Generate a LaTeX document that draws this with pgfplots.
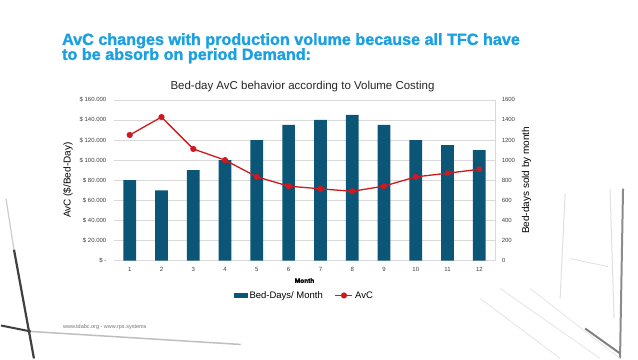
\documentclass[border=0pt]{standalone}
\usepackage{pgfplots}
\pgfplotsset{compat=1.18}
\usepackage{fontspec}
\setmainfont{Liberation Sans}
\newfontfamily\heavyfont[BoldFeatures={FakeBold=1.5}]{Liberation Sans}
\definecolor{barblue}{HTML}{0B5676}
\definecolor{linered}{HTML}{D0191E}
\definecolor{titleblue}{HTML}{1BA0E2}
\definecolor{ticktext}{HTML}{404040}
\definecolor{gridgray}{HTML}{D9D9D9}
\begin{document}
\begin{tikzpicture}
\begin{scope}[x=1pt,y=1pt]
\fill[white] (0,0) rectangle (638,359);
% faint background decoration
\draw[black!75,line width=2.2pt] (13,109) -- (33,0);
\draw[black!20,line width=1.2pt] (5,160) -- (13,109);
\draw[black!75,line width=2pt] (0,33) -- (30,27);
\draw[black!25,line width=1.5pt] (30,27) -- (240,14);
\draw[black!12,line width=1pt] (565,165) -- (560,60);
\draw[black!12,line width=1pt] (610,170) -- (614,40);
\draw[black!45,line width=2pt] (623,170) -- (620,0);
\draw[black!12,line width=0.8pt] (570,100) -- (608,92);
\draw[black!10,line width=0.8pt] (500,70) -- (600,0);
\draw[black!10,line width=0.8pt] (530,70) -- (620,0);
\draw[black!10,line width=0.8pt] (480,60) -- (560,0);
\draw[black!50,line width=2pt] (585,30) -- (620,5);
\node[anchor=base west,text=titleblue,font=\heavyfont\bfseries\fontsize{16.2}{16}\selectfont,inner sep=0] at (61,314) {AvC changes with production volume because all TFC have};
\node[anchor=base west,text=titleblue,font=\heavyfont\bfseries\fontsize{16.2}{16}\selectfont,inner sep=0] at (61,299) {to be absorb on period Demand:};
\node[anchor=west,text=black!55,font=\fontsize{5.5}{6}\selectfont,inner sep=0] at (62,31) {www.tdabc.org - www.rps.systems};
\node[font=\fontsize{11.5}{13}\selectfont,text=black!85] at (302,272) {Bed-day AvC behavior according to Volume Costing};
\end{scope}
\begin{axis}[
  at={(113pt,98pt)}, anchor=south west, scale only axis,
  width=382pt, height=161pt,
  xmin=0.5, xmax=12.5, ymin=0, ymax=1600,
  axis y line*=right, axis x line*=bottom,
  axis line style={gridgray},
  ytick={0,200,400,600,800,1000,1200,1400,1600},
  yticklabels={0,200,400,600,800,1000,1200,1400,1600},
  xtick={1,2,3,4,5,6,7,8,9,10,11,12},
  xticklabels={1,2,3,4,5,6,7,8,9,10,11,12},
  major tick length=0pt,
  ymajorgrids, grid style={gridgray,line width=0.5pt},
  tick label style={font=\fontsize{6}{7}\selectfont,text=ticktext},
  yticklabel style={anchor=west,xshift=3pt},
  xticklabel style={yshift=-3pt},
  xlabel={\textbf{Month}}, xlabel style={font=\heavyfont\bfseries\fontsize{6.5}{7}\selectfont,yshift=0pt},
  ylabel={Bed-days sold by month}, ylabel style={font=\fontsize{10.3}{11}\selectfont,text=black},
  ylabel near ticks,
]
\addplot[ybar, bar width=0.4, fill=barblue, draw=none] coordinates {
(1,800) (2,700) (3,900) (4,1000) (5,1200) (6,1350) (7,1400) (8,1450) (9,1350) (10,1200) (11,1150) (12,1100)};
\end{axis}
\begin{axis}[
  at={(113pt,98pt)}, anchor=south west, scale only axis,
  width=382pt, height=161pt,
  xmin=0.5, xmax=12.5, ymin=0, ymax=160000,
  scaled y ticks=false,
  axis y line*=left, axis x line=none,
  axis line style={draw=none},
  ytick={0,20000,40000,60000,80000,100000,120000,140000,160000},
  yticklabels={\$ -,\$ 20.000,\$ 40.000,\$ 60.000,\$ 80.000,\$ 100.000,\$ 120.000,\$ 140.000,\$ 160.000},
  major tick length=0pt,
  tick label style={font=\fontsize{6}{7}\selectfont,text=ticktext},
  yticklabel style={anchor=east,xshift=-4pt},
  ylabel={AvC (\$/Bed-Day)}, ylabel style={font=\fontsize{10}{11}\selectfont,text=black},
  ylabel near ticks,
  legend columns=2,
  legend style={at={(0.5,-0.217)}, anchor=center, draw=none, fill=none,
    font=\fontsize{9.5}{11}\selectfont, /tikz/every even column/.append style={column sep=10pt}},
]
\addlegendimage{legend image code/.code={\fill[barblue] (0pt,-2.2pt) rectangle (13pt,2.2pt);}}
\addlegendentry{Bed-Days/ Month}
\addplot[linered, line width=1.3pt, mark=*, mark size=2.4pt, mark options={fill=linered,draw=linered}] coordinates {
(1,125000) (2,142857) (3,111111) (4,100000) (5,83333) (6,74074) (7,71429) (8,68966) (9,74074) (10,83333) (11,86957) (12,90909)};
\addlegendentry{AvC}
\end{axis}
\end{tikzpicture}
\end{document}
